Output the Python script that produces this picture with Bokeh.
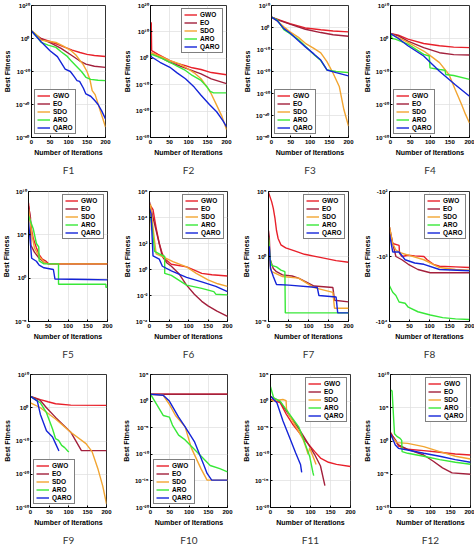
import numpy as np
from bokeh.plotting import figure
from bokeh.layouts import row, column
from bokeh.models import (Range1d, FixedTicker, CustomJSTickFormatter, Title,
                          Legend, LegendItem)
from bokeh.embed import file_html
from bokeh.resources import INLINE

ALGORITHMS = ["GWO", "EO", "SDO", "ARO", "QARO"]
LINE_COLORS = ["#e8202a", "#a3203c", "#f2a531", "#38e838", "#1424d8"]
X_TICKS = [0, 50, 100, 150, 200]

# Convergence curves: (iteration, log10 of best fitness)
F1_GWO = [(0, 4.5), (10, 2.5), (25, 0), (46, -1.5), (70, -3.5), (91, -5.4), (110, -7), (131, -8.5), (150, -9.6), (170, -10.3), (200, -10.9)]
F1_EO = [(0, 4.5), (25, 0), (50, -2.5), (80, -6), (107, -10), (130, -13.5), (147, -15.5), (170, -16.8), (200, -17.5)]
F1_SDO = [(0, 4.5), (10, 3), (26, -1), (40, -1.5), (55, -2), (66, -2.4), (85, -4.5), (107, -7.4), (120, -10), (130, -13), (139, -15.5), (150, -20), (158, -25), (164, -31.6), (172, -34), (180, -39.6), (186, -44), (192, -48), (200, -53.7)]
F1_ARO = [(0, 4.5), (15, 1), (26, -2.4), (45, -4), (66, -5.4), (80, -8), (95, -10.5), (107, -13.5), (120, -16.5), (135, -20), (147, -23.5), (160, -24.8), (180, -25.3), (200, -25.5)]
F1_QARO = [(0, 4.5), (10, 2), (26, -2), (50, -7.4), (70, -11), (91, -18.5), (105, -20), (115, -23), (123, -25.5), (130, -26), (140, -30), (147, -33.6), (160, -35), (171, -37.6), (180, -40), (190, -44), (200, -48.7)]

F2_GWO = [(0, 13.5), (2, 13.5), (3, 2.9), (20, 1.5), (51, -0.9), (70, -1.9), (92, -2.75), (110, -3.6), (133, -4.25), (160, -5.4), (200, -6.25)]
F2_EO = [(0, 1.5), (3, 2), (20, 0.8), (51, -1.5), (92, -3.75), (133, -5.9), (160, -7.8), (200, -9.6)]
F2_SDO = [(0, 0.5), (3, 2), (30, 0.5), (51, -0.9), (75, -2), (92, -3.4), (115, -5.5), (133, -7.75), (149, -10.9), (160, -13.5), (174, -17.75), (188, -22), (200, -27)]
F2_ARO = [(0, 1), (3, 1.5), (30, 0), (51, -1.5), (70, -3), (92, -4.6), (110, -6.5), (133, -8.4), (140, -9.5), (149, -10.9), (157, -12.5), (166, -13.1), (200, -13.1)]
F2_QARO = [(0, 1), (3, 0.5), (25, -1.5), (51, -3.4), (70, -5.5), (92, -7.75), (115, -10.9), (133, -14), (155, -17.5), (174, -20.25), (190, -23.5), (200, -25.9)]

F3_GWO = [(0, 4.75), (20, 3.5), (48, 1.7), (88, -0.2), (128, -1), (160, -1.6), (200, -2)]
F3_EO = [(0, 4.75), (20, 3.2), (48, 1.5), (88, -0.8), (128, -2.3), (160, -3.3), (200, -4)]
F3_SDO = [(0, 4.75), (15, 3), (32, 0.3), (48, -2), (70, -4.5), (88, -7.2), (110, -9.5), (128, -11.5), (144, -15.5), (160, -20.8), (176, -26.8), (188, -37.3), (200, -44.8)]
F3_ARO = [(0, 4.75), (15, 3.5), (32, -1), (48, -2.8), (70, -5.5), (88, -8.5), (112, -12.6), (128, -15), (144, -19.3), (168, -20), (200, -20.5)]
F3_QARO = [(0, 4.75), (15, 3), (32, -0.5), (48, -2.5), (70, -6), (88, -8.8), (110, -12), (128, -14.8), (144, -19.3), (168, -20.5), (200, -22)]

F4_GWO = [(0, 1.5), (20, 1), (44, -0.2), (84, -1.5), (124, -2.2), (160, -2.6), (200, -2.75)]
F4_EO = [(0, 1.5), (20, 0.8), (44, -0.8), (84, -2.75), (124, -4.3), (160, -4.9), (200, -5)]
F4_SDO = [(0, 1.5), (20, 0.3), (44, -1.2), (64, -2.5), (84, -3.8), (104, -5.5), (124, -7.3), (148, -10.9), (164, -15.5), (180, -20), (190, -23), (200, -25.6)]
F4_ARO = [(0, 1.5), (4, 0), (12, -0.2), (44, -1.7), (84, -4.8), (98, -5.3), (100, -8.9), (124, -9.4), (138, -9.6), (140, -10.9), (160, -11.2), (200, -12.4)]
F4_QARO = [(0, 1.5), (20, 0), (44, -2.2), (84, -5.3), (124, -9.9), (164, -14), (200, -17.5)]

F5_GWO = [(0, 8.7), (4, 7), (8, 5.5), (12, 4.6), (20, 3.5), (27, 2.7), (35, 2.2), (43, 2), (51, 1.65), (200, 1.65)]
F5_EO = [(0, 8.3), (5, 7), (6, 3.8), (15, 3), (27, 2.3), (40, 1.8), (51, 1.65), (200, 1.65)]
F5_SDO = [(0, 8), (8, 5.2), (15, 3.5), (27, 2.5), (40, 1.8), (51, 1.65), (200, 1.65)]
F5_ARO = [(0, 7.2), (12, 5.7), (20, 4), (26, 3.6), (27, 2), (39, 1.65), (76, 1.65), (76, -0.7), (196, -0.7), (196, -1.05), (200, -1.05)]
F5_QARO = [(0, 6.5), (3, 5), (8, 2.3), (20, 1.95), (27, 1.5), (39, 1.2), (63, 1.0), (67, -0.1), (150, -0.15), (200, -0.2)]

F6_GWO = [(0, 5), (5, 4.8), (9, 4.6), (17, 3.2), (25, 2), (33, 1.2), (40, 0.8), (56, 0.4), (95, 0.2), (115, -0.05), (134, -0.3), (160, -0.4), (200, -0.5)]
F6_EO = [(0, 5.2), (5, 4.5), (17, 3), (25, 2), (33, 1), (45, 0.5), (56, 0.25), (75, -0.3), (95, -1.2), (115, -1.9), (134, -2.45), (150, -2.8), (173, -3.2), (200, -3.6)]
F6_SDO = [(0, 3), (3, 5), (8, 3.5), (17, 1.2), (40, 0.9), (60, 0.6), (95, 0.2), (120, -0.3), (150, -0.8), (175, -1.1), (200, -1.3)]
F6_ARO = [(0, 4.3), (6, 3.5), (13, 1.4), (25, 1.2), (39, 1.0), (39, -0.3), (56, -0.45), (95, -1.2), (134, -1.45), (165, -1.7), (170, -1.9), (200, -1.95)]
F6_QARO = [(0, 4.7), (4, 4.3), (9, 1.05), (25, 0.8), (33, 0.25), (56, -0.1), (95, -0.6), (134, -0.95), (170, -1.3), (200, -1.7)]

F7_GWO = [(0, 4.93), (8, 4.2), (12, 3.7), (16, 2.98), (20, 2.0), (24, 1.39), (31, 0.9), (43, 0.66), (67, 0.41), (90, 0.17), (129, -0.07), (169, -0.32), (200, -0.44)]
F7_EO = [(0, 2.0), (2, 1.5), (4, -0.2), (12, -0.93), (20, -1.17), (35, -1.41), (59, -1.5), (75, -1.66), (90, -1.9), (114, -2.27), (161, -2.39), (165, -3.37), (200, -3.49)]
F7_SDO = [(0, 1.27), (4, -0.68), (8, -1.17), (35, -1.54), (75, -1.66), (114, -2.39), (161, -2.76), (165, -3.98), (200, -3.98)]
F7_ARO = [(0, 1.5), (4, -0.2), (8, -0.68), (20, -0.8), (31, -1.05), (41, -1.17), (42, -4.34), (200, -4.34)]
F7_QARO = [(0, 0.54), (2, 0.78), (5, -0.93), (12, -1.54), (20, -2.15), (51, -2.2), (122, -2.39), (126, -3.0), (169, -3.12), (173, -4.34), (200, -4.34)]

# F8 holds negative fitness values: log10 of their magnitude
F8_GWO = [(0, 2.6), (8, 2.8), (24, 2.83), (25, 2.95), (31, 3.0), (47, 2.98), (63, 2.99), (86, 3.0), (94, 3.05), (110, 3.12), (125, 3.15), (165, 3.16), (200, 3.17)]
F8_EO = [(0, 2.55), (8, 2.8), (16, 3.0), (31, 3.05), (47, 3.12), (71, 3.2), (102, 3.25), (200, 3.25)]
F8_SDO = [(0, 2.55), (8, 2.8), (16, 2.9), (31, 2.95), (47, 2.98), (86, 3.05), (125, 3.17), (165, 3.2), (200, 3.21)]
F8_ARO = [(0, 3.45), (8, 3.55), (16, 3.6), (24, 3.7), (39, 3.72), (47, 3.78), (71, 3.85), (102, 3.9), (133, 3.94), (165, 3.96), (200, 3.97)]
F8_QARO = [(0, 2.65), (8, 2.93), (24, 2.93), (39, 3.05), (63, 3.1), (86, 3.12), (125, 3.2), (200, 3.22)]

F9_GWO = [(0, 3.4), (26, 2.45), (46, 1.8), (66, 1.2), (106, 0.8), (200, 0.7)]
F9_EO = [(0, 3.4), (26, 2.2), (42, 0), (66, -2.9), (106, -7.35), (134, -12.9), (200, -12.9)]
F9_SDO = [(0, 1.5), (26, 0), (66, -3.4), (106, -7.35), (146, -10.8), (162, -13.2), (178, -18.6), (190, -23.5), (200, -28.9)]
F9_ARO = [(0, 3.4), (26, 1.5), (42, -1.5), (58, -6.4), (66, -9.3), (74, -9.8), (82, -11.3), (90, -12), (98, -13), (101, -13.3)]
F9_QARO = [(0, 3.4), (18, 2), (26, -2), (42, -6.9), (58, -8.8), (66, -10.8), (74, -12.8), (75, -13)]

F10_GWO = [(0, 1.3), (200, 1.3)]
F10_EO = [(0, 1.3), (200, 1.3)]
F10_SDO = [(0, 1.3), (33, 1.1), (49, -0.6), (65, -2.7), (90, -4.85), (106, -8.8), (131, -12.7), (147, -14.85), (200, -14.85)]
F10_ARO = [(0, 1.3), (16, -0.6), (33, -2.7), (49, -3), (57, -4.5), (73, -6.4), (90, -7.3), (106, -8.5), (131, -10.3), (155, -12.1), (180, -12.7), (200, -13.3)]
F10_QARO = [(0, 1.3), (33, 1.1), (49, 0), (73, -3), (90, -4.85), (114, -7.6), (139, -12.1), (147, -13.6), (159, -14.85), (200, -14.85)]

F11_GWO = [(0, 0.3), (24, -0.3), (39, -2.4), (55, -4.3), (86, -7.3), (110, -9.45), (125, -10.7), (145, -11.5), (165, -11.9), (200, -12.3)]
F11_EO = [(0, 0.9), (24, -0.1), (47, -2.7), (71, -5.2), (86, -7), (110, -10), (125, -12.2), (136, -15.9)]
F11_SDO = [(0, 0), (31, 0.3), (39, 0.1), (40, -1.5), (47, -2.7), (71, -5.8), (82, -7.3), (90, -9), (94, -10), (98, -8.8), (114, -11.9)]
F11_ARO = [(0, 2.7), (8, 0.6), (24, 0), (47, -2.4), (71, -4.9), (86, -7.9), (98, -10.4), (106, -13.4), (108, -14)]
F11_QARO = [(0, 0.9), (16, -0.3), (31, -3.7), (47, -6.7), (63, -9.75), (75, -11.9), (78, -13.4)]

F12_GWO = [(0, 1.3), (12, 0.1), (20, -0.75), (43, -1.25), (83, -1.45), (123, -1.7), (162, -1.95), (200, -2.1)]
F12_EO = [(0, 1.1), (12, 0.2), (20, -0.6), (43, -1.25), (83, -2.1), (107, -3.05), (130, -4.05), (154, -4.8), (200, -5)]
F12_SDO = [(0, 0.85), (16, -0.25), (43, -0.35), (83, -0.85), (123, -1.6), (162, -2.3), (200, -2.7)]
F12_ARO = [(0, 7.7), (4, 7.5), (10, 1.1), (16, 0.7), (24, 0.4), (28, 0.1), (29, -1.6), (43, -1.85), (83, -2.3), (123, -2.8), (162, -3.2), (200, -3.5)]
F12_QARO = [(0, 1.1), (12, -0.6), (20, -1.1), (43, -1.35), (83, -1.85), (123, -2.3), (162, -2.8), (200, -3.2)]

# y-axis tick exponents (first and last also bound the axis)
F1_YTICKS = [-60, -40, -20, 0, 20]
F2_YTICKS = [-30, -20, -10, 0, 10, 20]
F3_YTICKS = [-50, -40, -30, -20, -10, 0, 10]
F4_YTICKS = [-30, -20, -10, 0, 10]
F5_YTICKS = [-5, 0, 5, 10]
F6_YTICKS = [-4, -2, 0, 2, 4, 6]
F7_YTICKS = [-5, 0, 5]
F8_YTICKS = [2, 3, 4]
F9_YTICKS = [-30, -20, -10, 0, 10]
F10_YTICKS = [-20, -15, -10, -5, 0, 5]
F11_YTICKS = [-20, -15, -10, -5, 0, 5]
F12_YTICKS = [-10, -5, 0, 5, 10]

PANELS = [
    ("F1", [F1_GWO, F1_EO, F1_SDO, F1_ARO, F1_QARO], F1_YTICKS, "bottom_left", False),
    ("F2", [F2_GWO, F2_EO, F2_SDO, F2_ARO, F2_QARO], F2_YTICKS, "top_right", False),
    ("F3", [F3_GWO, F3_EO, F3_SDO, F3_ARO, F3_QARO], F3_YTICKS, "bottom_left", False),
    ("F4", [F4_GWO, F4_EO, F4_SDO, F4_ARO, F4_QARO], F4_YTICKS, "bottom_left", False),
    ("F5", [F5_GWO, F5_EO, F5_SDO, F5_ARO, F5_QARO], F5_YTICKS, "top_right", False),
    ("F6", [F6_GWO, F6_EO, F6_SDO, F6_ARO, F6_QARO], F6_YTICKS, "top_right", False),
    ("F7", [F7_GWO, F7_EO, F7_SDO, F7_ARO, F7_QARO], F7_YTICKS, "top_right", False),
    ("F8", [F8_GWO, F8_EO, F8_SDO, F8_ARO, F8_QARO], F8_YTICKS, "top_right", True),
    ("F9", [F9_GWO, F9_EO, F9_SDO, F9_ARO, F9_QARO], F9_YTICKS, "bottom_left", False),
    ("F10", [F10_GWO, F10_EO, F10_SDO, F10_ARO, F10_QARO], F10_YTICKS, "bottom_left", False),
    ("F11", [F11_GWO, F11_EO, F11_SDO, F11_ARO, F11_QARO], F11_YTICKS, "top_right", False),
    ("F12", [F12_GWO, F12_EO, F12_SDO, F12_ARO, F12_QARO], F12_YTICKS, "top_right", False),
]

# figure geometry per grid row: height, top/bottom border, then per column width, left/right border
ROW_GEOM = [
    (180, 5, 43, [(120, 23, 15), (120, 24, 14), (120, 25, 12), (114, 26, 5)]),
    (182, 11, 38, [(120, 22, 13), (120, 21, 13), (120, 23, 12), (114, 24, 5)]),
    (186, 12, 38, [(120, 23, 14), (120, 25, 13), (120, 25, 10), (114, 26, 4)]),
]

SUPERSCRIPT_LABEL = """
const sup = {"-": "\u207b", "0": "\u2070", "1": "\u00b9", "2": "\u00b2", "3": "\u00b3",
             "4": "\u2074", "5": "\u2075", "6": "\u2076", "7": "\u2077", "8": "\u2078", "9": "\u2079"};
const e = Math.round(Math.log10(Math.abs(tick)));
let s = "";
for (const c of String(e)) s += sup[c];
return prefix + "10" + s;
"""

AXIS_FONT = "Liberation Sans"


def make_panel(name, series, yticks, legend_loc, negative, geom):
    height, top, bottom, (width, left, right) = geom
    lo, hi = 10.0 ** yticks[0], 10.0 ** yticks[-1]
    y_range = Range1d(start=hi, end=lo) if negative else Range1d(start=lo, end=hi)
    p = figure(width=width, height=height, x_range=Range1d(0, 200), y_range=y_range,
               y_axis_type="log", output_backend="svg", toolbar_location=None,
               min_border_left=left, min_border_right=right,
               min_border_top=top, min_border_bottom=bottom,
               background_fill_color="white", border_fill_color="white")
    p.outline_line_color = "black"
    p.outline_line_width = 0.8

    items = []
    for pts, label, color in zip(series, ALGORITHMS, LINE_COLORS):
        xs = [it for it, _ in pts]
        ys = [10.0 ** v for _, v in pts]
        r = p.line(xs, ys, line_color=color, line_width=1.4)
        items.append(LegendItem(label=label, renderers=[r]))

    p.xaxis.ticker = FixedTicker(ticks=X_TICKS)
    p.yaxis.ticker = FixedTicker(ticks=[10.0 ** e for e in yticks])
    p.yaxis.formatter = CustomJSTickFormatter(args=dict(prefix="-" if negative else ""),
                                              code=SUPERSCRIPT_LABEL)
    p.xaxis.axis_label = "Number of Iterations"
    p.yaxis.axis_label = "Best Fitness"
    for ax in (p.xaxis[0], p.yaxis[0]):
        ax.axis_line_color = "black"
        ax.axis_line_width = 0.8
        ax.major_tick_in = 2
        ax.major_tick_out = 0
        ax.major_tick_line_color = "black"
        ax.minor_tick_line_color = None
        ax.major_label_text_font = AXIS_FONT
        ax.major_label_text_font_size = "6px"
        ax.major_label_text_font_style = "bold"
        ax.major_label_text_color = "black"
        ax.major_label_standoff = 2
        ax.axis_label_text_font = AXIS_FONT
        ax.axis_label_text_font_size = "7px"
        ax.axis_label_text_font_style = "bold"
        ax.axis_label_text_color = "black"
        ax.axis_label_standoff = 2
    p.grid.grid_line_color = "#dedede"
    p.grid.grid_line_width = 0.7

    legend = Legend(items=items, location=legend_loc,
                    label_text_font=AXIS_FONT, label_text_font_size="6.5px",
                    label_text_font_style="bold", label_text_color="black",
                    label_height=7, label_standoff=3, glyph_width=13, glyph_height=7,
                    spacing=1, padding=2, margin=3,
                    border_line_color="black", border_line_width=0.7,
                    background_fill_color="white", background_fill_alpha=1.0)
    p.add_layout(legend)

    p.add_layout(Title(text=name, align="center", text_font="Lato",
                       text_font_size="10px", text_font_style="normal",
                       text_color="#333333", standoff=6), "below")
    return p


rows = []
for r_i, (height, top, bottom, cols) in enumerate(ROW_GEOM):
    figs = []
    for c_i, col_geom in enumerate(cols):
        name, series, yticks, loc, neg = PANELS[r_i * 4 + c_i]
        figs.append(make_panel(name, series, yticks, loc, neg, (height, top, bottom, col_geom)))
    rows.append(row(*figs, spacing=0))

layout = column(*rows, spacing=0)
open("out.html", "w").write(file_html(layout, INLINE))
